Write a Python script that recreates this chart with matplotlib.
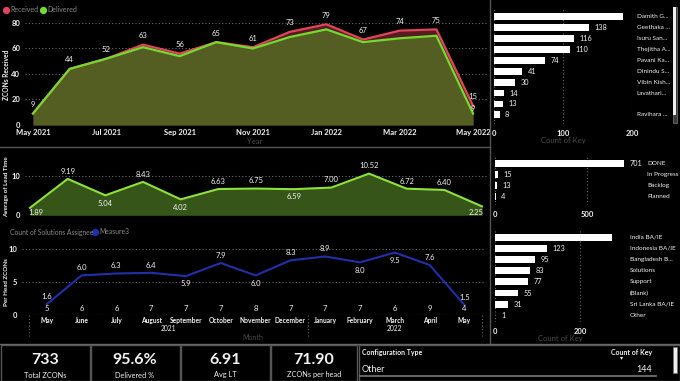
import numpy as np
import matplotlib
matplotlib.use("Agg")
import matplotlib.pyplot as plt
from matplotlib.patches import Rectangle

plt.rcParams['font.family'] = ['Lato', 'DejaVu Sans']

# ---- data ----
year_ticks = ["May 2021", "Jul 2021", "Sep 2021", "Nov 2021", "Jan 2022", "Mar 2022", "May 2022"]
received = [9, 44, 52, 63, 56, 65, 61, 73, 79, 67, 74, 75, 15]
delivered = [9, 44, 52, 61, 54, 65, 60, 69, 75, 65, 68, 70, 9]

lead_time = [1.89, 9.19, 5.04, 8.43, 4.02, 6.63, 6.75, 6.59, 7.00, 10.52, 6.72, 6.40, 2.25]

months = ["May", "June", "July", "August", "September", "October", "November",
          "December", "January", "February", "March", "April", "May"]
years = ["2021", "2022"]
assignees = [5, 6, 6, 7, 7, 7, 8, 7, 7, 7, 6, 9, 4]
measure3 = [1.6, 6.0, 6.3, 6.4, 5.9, 7.9, 6.0, 8.3, 8.9, 8.0, 9.5, 7.6, 1.5]

people = ["Damith G...", "Geethaka ...", "Isuru San...", "Thejitha A...", "Pavani Ka...",
          "Dinindu S...", "Vibin Kish...", "Lavathari...", "", "Ravihara ..."]
people_cnt = [187, 138, 116, 110, 74, 41, 30, 14, 13, 8]

status = ["DONE", "In Progress", "Backlog", "Planned"]
status_cnt = [701, 15, 13, 4]

teams = ["India BA/IE", "Indonesia BA/IE", "Bangladesh B...", "Solutions", "Support",
         "(Blank)", "Sri Lanka BA/IE", "Other"]
team_cnt = [275, 123, 95, 83, 77, 55, 31, 1]

kpi_values = ["733", "95.6%", "6.91", "71.90"]
kpi_names = ["Total ZCONs", "Delivered %", "Avg LT", "ZCONs per head"]

# ---- layout helpers (pixel coords, y from top) ----
W, H = 680, 381
fig = plt.figure(figsize=(W / 100, H / 100), dpi=100, facecolor='black')


def add_ax(x0, y0, x1, y1):
    ax = fig.add_axes([x0 / W, 1 - y1 / H, (x1 - x0) / W, (y1 - y0) / H])
    ax.set_facecolor('none')
    for s in ax.spines.values():
        s.set_visible(False)
    return ax


def ftext(x, y, s, **kw):
    fig.text(x / W, 1 - y / H, s, **kw)


def fline(x0, y0, x1, y1, color='#555555', lw=1.0):
    fig.add_artist(plt.Line2D([x0 / W, x1 / W], [1 - y0 / H, 1 - y1 / H],
                              color=color, lw=lw, transform=fig.transFigure))


def fdot(x, y, color):
    fig.add_artist(plt.Line2D([x / W], [1 - y / H], marker='o', markersize=4.2,
                              color=color, lw=0, transform=fig.transFigure))


def frect(x0, y0, x1, y1, **kw):
    fig.add_artist(Rectangle((x0 / W, 1 - y1 / H), (x1 - x0) / W, (y1 - y0) / H,
                             transform=fig.transFigure, **kw))


WHITE = '#f2f2f2'
GRAY = '#8a8a8a'
DIM = '#4a4a4a'
GRID = dict(color='#6a6a6a', linestyle=(0, (1, 2)), linewidth=0.8)
tick_kw = dict(colors=WHITE, labelsize=5.5, length=0)

# ================= top chart: received / delivered =================
ax1 = add_ax(25, 20, 487, 125)
x = np.arange(len(received))
ax1.fill_between(x, 0, received, color='#5a1a22', lw=0)
ax1.fill_between(x, 0, delivered, color='#545e22', lw=0)
ax1.plot(x, received, color='#e0455c', lw=1.6)
ax1.plot(x, delivered, color='#72dc2e', lw=1.6)
ax1.set_xlim(-0.218, 12.38)
ax1.set_ylim(0, 82.35)
ax1.set_yticks([0, 20, 40, 60, 80])
ax1.set_xticks(range(0, 13, 2))
ax1.set_xticklabels(year_ticks, fontweight='bold')
ax1.tick_params(**tick_kw)
ax1.tick_params(axis='x', pad=3)
for lb in ax1.get_yticklabels():
    lb.set_fontweight('bold')
ax1.yaxis.grid(True, **GRID)
ax1.set_axisbelow(True)
for i, v in enumerate(received):
    ax1.annotate(str(v), (i, v), xytext=(0, 4), textcoords='offset points',
                 ha='center', va='bottom', color=WHITE, fontsize=5.5)
ax1.annotate(str(delivered[-1]), (12, delivered[-1]), xytext=(0, 1), textcoords='offset points',
             ha='center', va='bottom', color=WHITE, fontsize=5.5)
ftext(7, 75, "ZCONs Received", rotation=90, ha='center', va='center',
      color=WHITE, fontsize=4.8, fontweight='bold')
ftext(255, 141, "Year", ha='center', va='center', color=DIM, fontsize=5.5)
fdot(6, 10, '#e0455c')
ftext(10.5, 10, "Received", ha='left', va='center', color=GRAY, fontsize=5.0)
fdot(43, 10, '#72dc2e')
ftext(47.5, 10, "Delivered", ha='left', va='center', color=GRAY, fontsize=5.0)

# ================= middle chart: lead time =================
ax2 = add_ax(25, 160, 488, 215.3)
x = np.arange(len(lead_time))
ax2.fill_between(x, 0, lead_time, color='#365518', lw=0)
ax2.plot(x, lead_time, color='#8ee23a', lw=1.5)
ax2.set_xlim(-0.133, 12.16)
ax2.set_ylim(0, 13.96)
ax2.set_yticks([0, 10])
ax2.set_xticks([])
ax2.tick_params(**tick_kw)
for lb in ax2.get_yticklabels():
    lb.set_fontweight('bold')
ax2.yaxis.grid(True, **GRID)
ax2.set_axisbelow(True)
lt_pos = ['base', 'up', 'down', 'up', 'down', 'up', 'up', 'down', 'up', 'up', 'up', 'up', 'base']
for i, v in enumerate(lead_time):
    p = lt_pos[i]
    if p == 'up':
        off, va = (0, 3), 'bottom'
    elif p == 'down':
        off, va = (0, -3), 'top'
    else:
        off, va = (0, 0), 'center'
    yy = 0.8 if p == 'base' else v
    xx = i + (0.15 if i == 0 else (-0.15 if i == 12 else 0))
    ax2.annotate(f"{v:.2f}", (xx, yy), xytext=off, textcoords='offset points',
                 ha='center', va=va, color=WHITE, fontsize=5.5)
ftext(7, 187, "Average of Lead Time", rotation=90, ha='center', va='center',
      color=WHITE, fontsize=4.5, fontweight='bold')

# ================= bottom chart: per head =================
ax3 = add_ax(22, 243, 486, 314.7)
x = np.arange(len(measure3))
ax3.plot(x, measure3, color='#2030a8', lw=1.5)
ax3.set_xlim(-0.71, 12.62)
ax3.set_ylim(0, 10.96)
ax3.set_yticks([0, 5, 10])
ax3.set_xticks(x)
ax3.set_xticklabels(months, fontsize=4.8, fontweight='bold')
ax3.tick_params(**tick_kw)
ax3.tick_params(axis='x', pad=2, labelsize=4.8)
for lb in ax3.get_yticklabels():
    lb.set_fontweight('bold')
ax3.yaxis.grid(True, **GRID)
ax3.axhline(0, **GRID)
ax3.set_axisbelow(True)
m3_pos = ['up', 'up', 'up', 'up', 'down', 'up', 'down', 'up', 'up', 'down', 'down', 'up', 'up']
for i, v in enumerate(measure3):
    if m3_pos[i] == 'up':
        off, va = (0, 3), 'bottom'
    else:
        off, va = (0, -3), 'top'
    ax3.annotate(f"{v:.1f}", (i, v), xytext=off, textcoords='offset points',
                 ha='center', va=va, color=WHITE, fontsize=5.5)
for i, c in enumerate(assignees):
    ax3.text(i, 1.0, str(c), ha='center', va='center', color=WHITE, fontsize=5.5)
for sx in [-0.5, 7.5, 12.5]:
    ax3.plot([sx, sx], [0, -3.2], clip_on=False, **GRID)
ax3.text(3.5, -2.15, years[0], ha='center', va='center', color=WHITE, fontsize=4.8)
ax3.text(10.0, -2.15, years[1], ha='center', va='center', color=WHITE, fontsize=4.8)
ftext(7, 282, "Per Head ZCONs", rotation=90, ha='center', va='center',
      color=WHITE, fontsize=4.5, fontweight='bold')
ftext(253, 338, "Month", ha='center', va='center', color=DIM, fontsize=5)
ftext(10, 232, "Count of Solutions Assignee", ha='left', va='center', color=GRAY, fontsize=4.9)
fdot(95, 232, '#2030a8')
ftext(99.5, 232, "Measure3", ha='left', va='center', color=GRAY, fontsize=4.9)


# ================= right side bar charts =================
def hbar(ax, labels, values, label_x, skip_first):
    y = np.arange(len(values))
    ax.barh(y, values, height=0.62, color='white', clip_on=False)
    ax.tick_params(**tick_kw)
    ax.set_yticks([])
    for lb in ax.get_xticklabels():
        lb.set_fontweight('bold')
    ax.xaxis.grid(True, **GRID)
    ax.set_axisbelow(True)
    for i, (lab, v) in enumerate(zip(labels, values)):
        ax.text(label_x, i, lab, ha='left', va='center', color=WHITE, fontsize=4.6,
                clip_on=False)
        if skip_first and i == 0:
            continue
        ax.annotate(str(v), (v, i), xytext=(4, 0), textcoords='offset points',
                    ha='left', va='center', color=WHITE, fontsize=5.3)


ax4 = add_ax(494, 8, 632, 124)
ax4.set_xlim(0, 200)
ax4.set_ylim(9.84, -0.8)
ax4.set_xticks([0, 100, 200])
hbar(ax4, people, people_cnt, 207, True)
ax4.tick_params(axis='x', pad=4)
ftext(563, 141, "Count of Key", ha='center', va='center', color=DIM, fontsize=5.5)
frect(672.5, 7, 676.5, 123, facecolor='#3a3a3a', edgecolor='#777777', lw=0.5)
frect(672.8, 7.3, 676.2, 115, facecolor='#eeeeee', edgecolor='none')

ax5 = add_ax(495, 155, 640, 205)
ax5.set_xlim(0, 788)
ax5.set_ylim(3.75, -0.75)
ax5.set_xticks([0, 500])
hbar(ax5, status, status_cnt, 826, False)
ax5.tick_params(axis='x', pad=4)

ax6 = add_ax(495, 229, 620, 322)
ax6.set_xlim(0, 294)
ax6.set_ylim(7.6, -0.75)
ax6.set_xticks([0, 200])
hbar(ax6, teams, team_cnt, 317.6, True)
ax6.tick_params(axis='x', pad=4)
ftext(560, 338, "Count of Key", ha='center', va='center', color=DIM, fontsize=5.5)

# ================= dividers =================
fline(489.5, 0, 489.5, 343)
fline(0, 147, 489.5, 147)
fline(0, 343.5, 680, 343.5, color='#666666')

# ================= KPI cards =================
card_edges = [0, 90, 180, 270, 358]
for k in range(4):
    x0, x1 = card_edges[k], card_edges[k + 1]
    frect(x0 + 0.5, 345, x1 - 0.5, 381, facecolor='black', edgecolor='#555555', lw=1)
    cx = (x0 + x1) / 2
    ftext(cx, 360, kpi_values[k], ha='center', va='center', color=WHITE,
          fontsize=11.5, fontweight='bold')
    ftext(cx, 375, kpi_names[k], ha='center', va='center', color=WHITE, fontsize=5.3)

frect(358.5, 345, 679.5, 381, facecolor='black', edgecolor='#555555', lw=1)
ftext(362, 352, "Configuration Type", ha='left', va='center', color=WHITE,
      fontsize=5, fontweight='bold')
ftext(652, 352, "Count of Key", ha='right', va='center', color=WHITE,
      fontsize=5, fontweight='bold')
ftext(622, 357.8, "\u25BE", ha='center', va='center', color=WHITE, fontsize=4.5,
      family='DejaVu Sans')
ftext(362, 369, "Other", ha='left', va='center', color=WHITE, fontsize=6.5)
ftext(652, 369, "144", ha='right', va='center', color=WHITE, fontsize=6.5)
fline(360, 375.5, 656, 375.5, color='#777777', lw=1.2)
frect(672.5, 347, 676.5, 373, facecolor='#eeeeee', edgecolor='#777777', lw=0.5)

fig.savefig("out.png", dpi=100, facecolor='black')
